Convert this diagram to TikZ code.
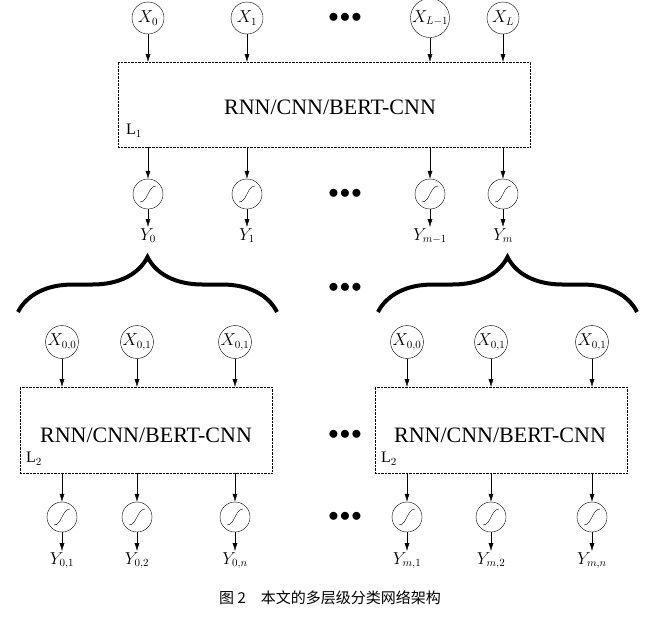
\documentclass[tikz,border=0pt]{standalone}
\usepackage{fontspec}
\setmainfont{Liberation Serif}
\newfontfamily\cjk{Noto Sans CJK SC}
\usetikzlibrary{decorations.pathreplacing,arrows.meta}
\begin{document}
\begin{tikzpicture}[x=1pt,y=-1pt,
  inp/.style={draw,circle,minimum size=32pt,inner sep=0pt,font=\fontsize{16}{18}\selectfont},
  sig/.style={draw,circle,minimum size=30pt,inner sep=0pt,
    path picture={\draw (path picture bounding box.center) ++(-8,8) .. controls ++(8,0) and ++(-8,0) .. ++(16,-16);}},
  layer/.style={draw,densely dotted,inner sep=0pt},
  arr/.style={-{Latex[length=8pt,width=5pt]}},
  lbl/.style={font=\fontsize{16}{18}\selectfont},
  big/.style={font=\fontsize{22}{24}\selectfont},
  brc/.style={decorate,decoration={brace,amplitude=55pt,aspect=0.5},line width=4pt},
  dots/.style={font=\fontsize{22}{24}\selectfont}]
\useasboundingbox (0,0) rectangle (647,616);

% top layer
\node[layer,minimum width=412pt,minimum height=85pt] (b1) at (324,104.5) {};
\node[big] (t1) at (330,107) {RNN/CNN/BERT-CNN};
\node[lbl] (l1) at (134,131) {L$_1$};
\foreach \n/\x/\s/\y in {a/148/0/0, b/247/1/1, c/430/{L-1}/{m-1}, d/503/L/m}{
  \node[inp] (x\n) at (\x,18) {$X_{\s}$};
  \node[sig] (s\n) at (\x,194) {};
  \coordinate (bt\n) at (\x,62);
  \coordinate (bb\n) at (\x,147);
  \node[lbl,anchor=north,inner sep=1pt] (y\n) at (\x,227) {$Y_{\y}$};
  \draw[arr] (x\n) -- (bt\n);
  \draw[arr] (bb\n) -- (s\n);
  \draw[arr] (s\n) -- (y\n);
}
\node[dots] (d1) at (345,18) {$\bullet\!\bullet\!\bullet$};
\node[dots] (d2) at (345,194) {$\bullet\!\bullet\!\bullet$};
\node[dots] (d3) at (345,288) {$\bullet\!\bullet\!\bullet$};

% braces
\coordinate (bl1) at (18,312); \coordinate (bl2) at (277,312);
\coordinate (br1) at (378,312); \coordinate (br2) at (637,312);
\draw[brc] (bl1) -- (bl2);
\draw[brc] (br1) -- (br2);

% bottom layers
\foreach \p/\xa/\xb/\xc/\bl/\br/\cx/\ya/\yb/\yc in
  {L/62/137/235/20/272/146/{0,1}/{0,2}/{0,n}, R/407/491/592/375/627/500/{m,1}/{m,2}/{m,n}}{
  \node[layer,minimum width=\br pt-\bl pt,minimum height=86pt] (box\p) at ({(\bl+\br)/2},430) {};
  \node[big] (txt\p) at (\cx,435) {RNN/CNN/BERT-CNN};
  \node[lbl] (lab\p) at (\bl+14,459) {L$_2$};
  \foreach \n/\x/\s/\y in {1/\xa/{0,0}/\ya, 2/\xb/{0,1}/\yb, 3/\xc/{0,1}/\yc}{
    \node[inp] (x\p\n) at (\x,342) {$X_{\s}$};
    \node[sig] (s\p\n) at (\x,517) {};
    \coordinate (t\p\n) at (\x,387);
    \coordinate (u\p\n) at (\x,473);
    \node[lbl,anchor=north,inner sep=1pt] (y\p\n) at (\x,551) {$Y_{\y}$};
    \draw[arr] (x\p\n) -- (t\p\n);
    \draw[arr] (u\p\n) -- (s\p\n);
    \draw[arr] (s\p\n) -- (y\p\n);
  }
}
\node[dots] (d4) at (345,435) {$\bullet\!\bullet\!\bullet$};
\node[dots] (d5) at (345,517) {$\bullet\!\bullet\!\bullet$};

\node[font=\cjk\fontsize{15}{17}\selectfont] (cap) at (330,598) {图 2\quad 本文的多层级分类网络架构};
\end{tikzpicture}
\end{document}
